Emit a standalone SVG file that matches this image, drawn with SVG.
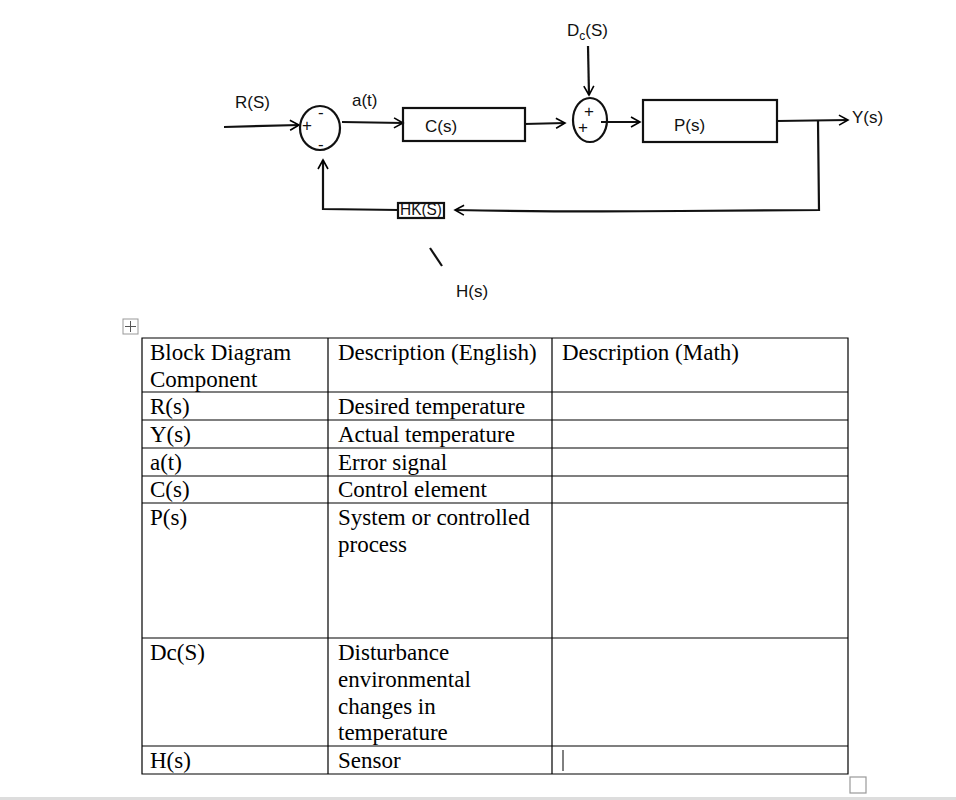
<svg xmlns="http://www.w3.org/2000/svg" width="956" height="800" viewBox="0 0 956 800">
<defs>
<marker id="ar" markerWidth="12" markerHeight="12" refX="10" refY="6" orient="auto" markerUnits="userSpaceOnUse"><path d="M1,1 L10,6 L1,11" fill="none" stroke="#000" stroke-width="1.6"/></marker>
<style>
.h{font-family:"Liberation Sans",sans-serif;font-size:17px;fill:#111}
.s{fill:none;stroke:#111;stroke-width:2.2}
.t{font-family:"Liberation Serif",serif;font-size:23px;fill:#000}
.g{stroke:#000;stroke-width:1.2;fill:none}
</style>
</defs>
<rect width="956" height="800" fill="#fff"/>
<g id="connectors">
<path class="s" d="M224,127 L299,125" marker-end="url(#ar)"/>
<path class="s" d="M342,122 L403,123" marker-end="url(#ar)"/>
<path class="s" d="M524,124 L565,123" marker-end="url(#ar)"/>
<path class="s" d="M588,46 L589,95" marker-end="url(#ar)"/>
<path class="s" d="M601,122 L640,122" marker-end="url(#ar)"/>
<path class="s" d="M777,121 L848,120" marker-end="url(#ar)"/>
<path class="s" d="M818,121 L819,210 L680,211 Q560,212 455,210" marker-end="url(#ar)"/>
<path class="s" d="M399,210 L323,209 L323,160" marker-end="url(#ar)"/>
<path class="s" d="M430,248 L442,266"/>
</g>
<g id="sum1"><ellipse class="s" cx="320" cy="128" rx="20" ry="22"/><text class="h" x="302" y="131" font-size="11">+</text><text class="h" x="318" y="150" font-size="11">-</text><text class="h" x="318" y="118" font-size="11">-</text></g>
<g id="Cs"><rect class="s" x="403" y="108" width="122" height="33"/><text class="h" x="425" y="132" font-size="19">C(s)</text></g>
<g id="sum2"><ellipse class="s" cx="590" cy="120" rx="17" ry="22"/><text class="h" x="578" y="133" font-size="11">+</text><text class="h" x="584" y="117" font-size="11">+</text></g>
<g id="Ps"><rect class="s" x="643" y="100" width="134" height="42"/><text class="h" x="674" y="131" font-size="19">P(s)</text></g>
<g id="Hs"><rect class="s" x="398" y="203" width="46" height="15"/><text class="h" x="400" y="215" font-size="11" textLength="42" lengthAdjust="spacingAndGlyphs">HK(S)</text></g>
<g id="labels">
<text class="h" x="235" y="108" font-size="19">R(S)</text>
<text class="h" x="352" y="106" font-size="19">a(t)</text>
<text class="h" x="567" y="36" font-size="19">D<tspan font-size="12" dy="4">c</tspan><tspan dy="-4">(S)</tspan></text>
<text class="h" x="852" y="123" font-size="19">Y(s)</text>
<text class="h" x="456" y="297" font-size="14">H(s)</text>
</g>
<g id="table">
<rect x="123" y="319" width="15" height="15" fill="#fff" stroke="#999"/>
<path d="M130.5,321 V332 M125,326.5 H136" stroke="#555" stroke-width="1"/>
<path class="g" d="M142,338 H848 V774 H142 Z M328,338 V774 M552,338 V774 M142,392 H848 M142,420 H848 M142,448 H848 M142,476 H848 M142,503 H848 M142,638 H848 M142,746 H848"/>
<path d="M563,750 V771" stroke="#000" stroke-width="1"/>
<text class="t" x="150" y="360">Block Diagram</text><text class="t" x="150" y="387">Component</text>
<text class="t" x="338" y="360">Description (English)</text>
<text class="t" x="562" y="360">Description (Math)</text>
<text class="t" x="150" y="414">R(s)</text><text class="t" x="338" y="414">Desired temperature</text>
<text class="t" x="150" y="442">Y(s)</text><text class="t" x="338" y="442">Actual temperature</text>
<text class="t" x="150" y="470">a(t)</text><text class="t" x="338" y="470">Error signal</text>
<text class="t" x="150" y="497">C(s)</text><text class="t" x="338" y="497">Control element</text>
<text class="t" x="150" y="525">P(s)</text><text class="t" x="338" y="525">System or controlled</text><text class="t" x="338" y="552">process</text>
<text class="t" x="150" y="660">Dc(S)</text><text class="t" x="338" y="660">Disturbance</text><text class="t" x="338" y="687">environmental</text><text class="t" x="338" y="714">changes in</text><text class="t" x="338" y="740">temperature</text>
<text class="t" x="150" y="768">H(s)</text><text class="t" x="338" y="768">Sensor</text>
<rect x="850" y="777" width="16" height="16" fill="#fff" stroke="#999" stroke-width="1.2"/>
<rect x="0" y="797" width="956" height="3" fill="#ddd"/>
</g>
</svg>
